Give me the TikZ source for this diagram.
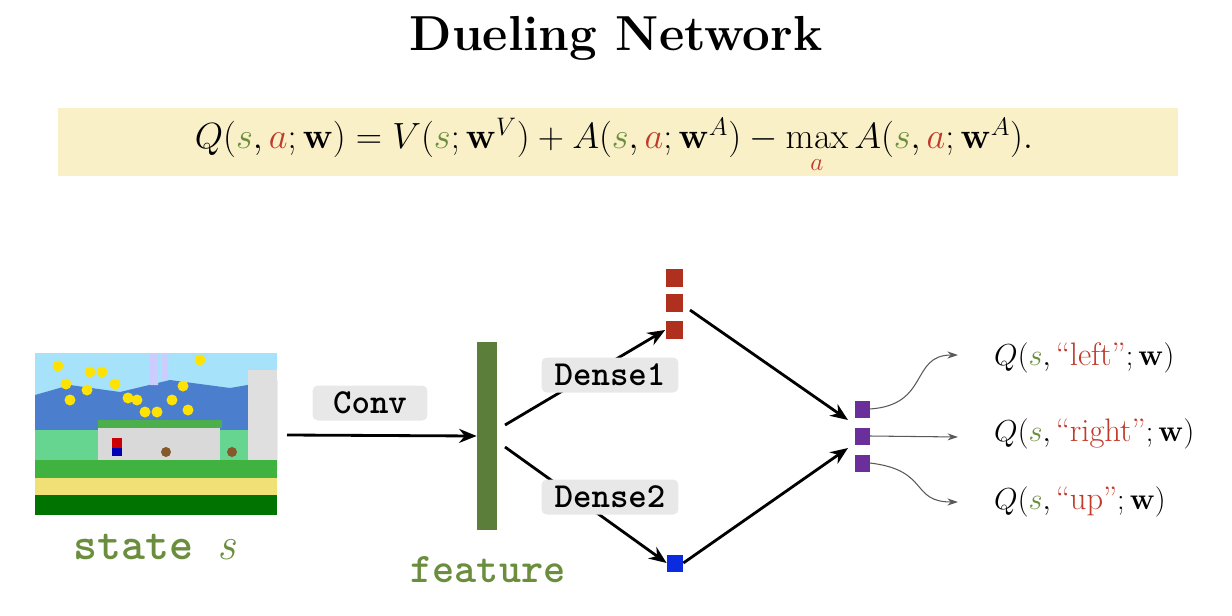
\documentclass[tikz,border=0pt]{standalone}
\usepackage{amsmath,bm}
\usetikzlibrary{arrows.meta}
\definecolor{band}{HTML}{FAF0C8}
\definecolor{sgreen}{HTML}{6B8E3E}
\definecolor{fgreen}{HTML}{5B7F3A}
\definecolor{ared}{HTML}{C0392B}
\definecolor{sqred}{HTML}{B03020}
\definecolor{sqblue}{HTML}{0A2BE0}
\definecolor{sqpurple}{HTML}{6A2F9A}
\definecolor{lblgray}{HTML}{E8E8E8}
\begin{document}
\begin{tikzpicture}[x=0.02cm,y=-0.02cm,
  lbl/.style={fill=lblgray,rounded corners=3pt,font=\ttfamily\bfseries\fontsize{20}{24}\selectfont,minimum width=2.74cm,minimum height=0.7cm,inner sep=1pt},
  arr/.style={-{Stealth[length=10pt,width=8pt]},line width=1.6pt},
  thin/.style={-{Stealth[length=6pt,width=4pt]},line width=0.6pt,draw=black!65},
  sq/.style={minimum width=0.34cm,minimum height=0.36cm,inner sep=0pt},
  ql/.style={anchor=west,font=\fontsize{18.5}{22}\selectfont}]
\useasboundingbox (0,0) rectangle (1232,616);
\node[font=\bfseries\fontsize{28}{33}\selectfont] (title) at (616,38) {Dueling Network};
\fill[band] (58,108) rectangle (1178,176);
\node[font=\fontsize{21}{25}\selectfont] (eq) at (614,146) {$Q(\textcolor{sgreen}{s},\textcolor{ared}{a};\mathbf{w}) = V(\textcolor{sgreen}{s};\mathbf{w}^V) + A(\textcolor{sgreen}{s},\textcolor{ared}{a};\mathbf{w}^A) - \max\limits_{\textcolor{ared}{a}} A(\textcolor{sgreen}{s},\textcolor{ared}{a};\mathbf{w}^A).$};
% game picture
\begin{scope}
\clip (35,353) rectangle (277,515);
\fill[cyan!35!white] (35,353) rectangle (277,515);
\fill[blue!45!teal!70!white] (35,395) -- (70,385) -- (120,392) -- (170,380) -- (230,388) -- (277,380) -- (277,470) -- (35,470) -- cycle;
\fill[teal!55!green!60!white] (35,430) rectangle (277,470);
\fill[gray!30] (98,425) rectangle (220,462);
\fill[green!55!black!70] (98,420) rectangle (222,428);
\fill[gray!25] (248,370) rectangle (277,462);
\fill[white!80!blue] (150,352) rectangle (158,385) (162,352) rectangle (168,380);
\fill[green!60!black!75] (35,460) rectangle (277,478);
\fill[brown!40!yellow!60!white] (35,478) rectangle (277,495);
\fill[green!45!black] (35,495) rectangle (277,515);
\foreach \x/\y in {58/366,66/384,70/400,90/372,102/372,87/390,115/384,128/398,145/412,157/412,137/400,172/400,183/386,200/360,188/410}
  \fill[yellow!85!orange] (\x,\y) circle (5.5);
\fill[red!80!black] (112,438) rectangle (122,448);
\fill[blue!70!black] (112,448) rectangle (122,456);
\fill[brown!70!black] (166,452) circle (5);
\fill[brown!70!black] (232,452) circle (5);
\end{scope}
\node[font=\ttfamily\bfseries\fontsize{26}{30}\selectfont,text=sgreen] (state) at (155,547) {state {\rmfamily\mdseries\itshape s}};
\node[lbl,minimum width=2.3cm] (conv) at (370,403) {Conv};
\node[fill=fgreen,minimum width=0.4cm,minimum height=3.76cm,inner sep=0pt] (feat) at (487,436) {};
\node[font=\ttfamily\bfseries\fontsize{24}{28}\selectfont,text=sgreen] (flbl) at (488,570) {feature};
\coordinate (imgR) at (287,435);
\draw[arr] (imgR) -- (feat.west);
\node[sq,fill=sqred] (r1) at (674,278) {};
\node[sq,fill=sqred] (r2) at (674,303) {};
\node[sq,fill=sqred] (r3) at (674,330) {};
\node[sq,fill=sqblue,minimum height=0.34cm,minimum width=0.32cm] (b1) at (675,563) {};
\node[sq,fill=sqpurple,minimum width=0.3cm,minimum height=0.34cm] (p1) at (862,409) {};
\node[sq,fill=sqpurple,minimum width=0.3cm,minimum height=0.34cm] (p2) at (862,436) {};
\node[sq,fill=sqpurple,minimum width=0.3cm,minimum height=0.34cm] (p3) at (862,463) {};
\draw[arr] (505,425) -- (r3.west);
\draw[arr] (505,447) -- (b1.west);
\draw[arr] (690,310) -- (848,420);
\draw[arr] (b1.east) -- (848,448);
\node[lbl] (d1) at (610,375) {Dense1};
\node[lbl] (d2) at (610,497) {Dense2};
\node[ql] (q1) at (988,358) {$Q(\textcolor{sgreen}{s},\textcolor{ared}{\text{``left''}};\mathbf{w})$};
\node[ql] (q2) at (988,434) {$Q(\textcolor{sgreen}{s},\textcolor{ared}{\text{``right''}};\mathbf{w})$};
\node[ql] (q3) at (988,502) {$Q(\textcolor{sgreen}{s},\textcolor{ared}{\text{``up''}};\mathbf{w})$};
\draw[thin] (p1.east) .. controls (930,405) and (910,355) .. (958,355);
\draw[thin] (p2.east) -- (958,437);
\draw[thin] (p3.east) .. controls (930,470) and (910,502) .. (958,502);
\end{tikzpicture}
\end{document}
